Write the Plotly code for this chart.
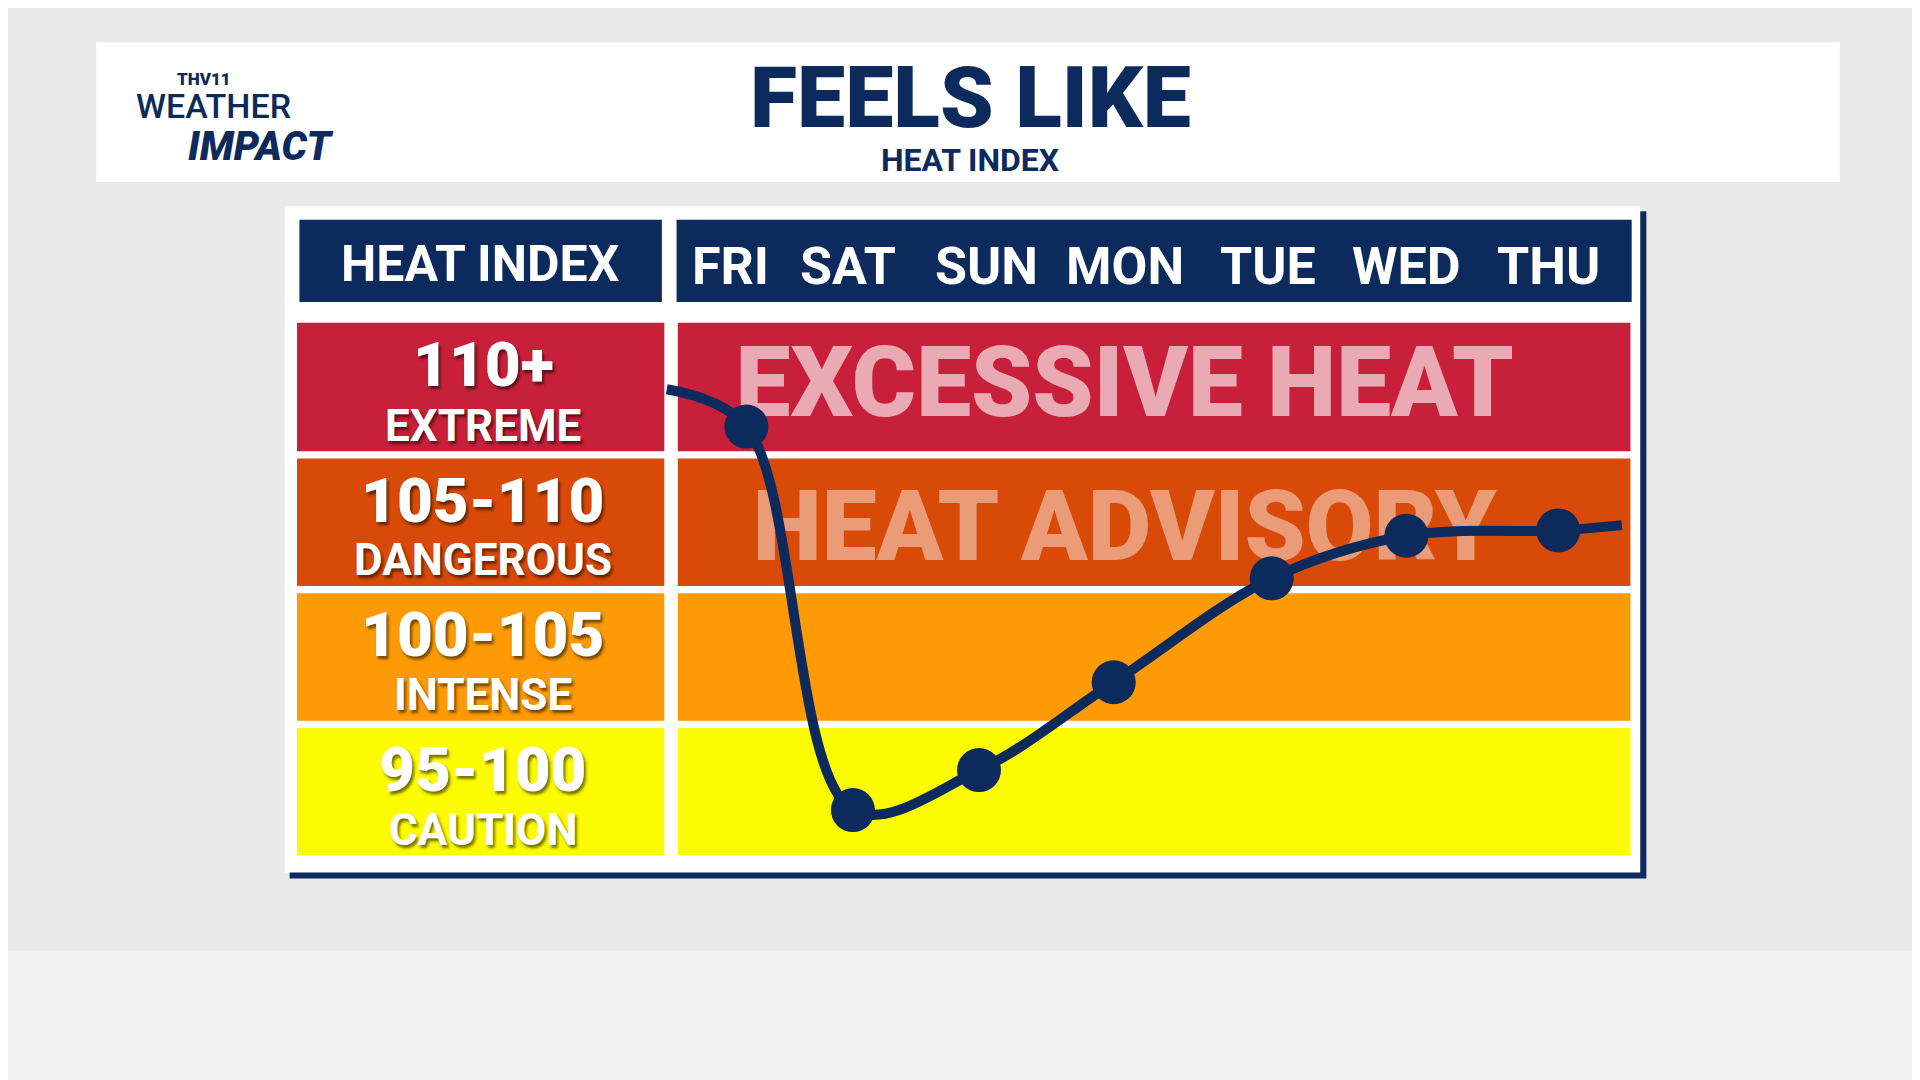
import plotly.graph_objects as go

W, H = 1920, 1080
RW, RH = 1568, 882  # reference layout units

NAVY = "#0c2a5b"

days = ["FRI", "SAT", "SUN", "MON", "TUE", "WED", "THU"]
day_pos = [603, 690, 793, 903, 1032, 1142, 1266]
feels_like = [111.1, 96.7, 98.2, 101.5, 105.4, 107.0, 107.2]
line_pos = [538] + day_pos + [1318]
line_vals = [112.5] + feels_like + [107.4]

band_labels = ["110+", "105-110", "100-105", "95-100"]
band_names = ["EXTREME", "DANGEROUS", "INTENSE", "CAUTION"]
band_colors = ["#c8203a", "#d94a08", "#fd9a05", "#fdfb00"]
band_y = [(257, 362), (368, 472), (478, 582), (588, 692)]

zones = ["EXCESSIVE HEAT", "HEAT ADVISORY"]
zone_vals = [112.4, 107.0]
zone_alpha = [0.62, 0.45]


def px(x):
    return x / RW


def py(y):
    return 1 - y / RH


def rect(x0, y0, x1, y1, color):
    return dict(type="rect", xref="paper", yref="paper", x0=px(x0), x1=px(x1),
                y0=py(y1), y1=py(y0), fillcolor=color, layer="below", line=dict(width=0))


def text(x, y, s, size, color="white", weight="bold", shadow="none", family="Roboto"):
    return dict(xref="paper", yref="paper", x=px(x), y=py(y), text=s, showarrow=False,
                font=dict(size=size, color=color, family=family, weight=weight, shadow=shadow),
                xanchor="center", yanchor="middle")


shapes = [
    rect(0, 0, RW, 770, "#e9e9e9"),
    rect(0, 770, RW, RH, "#f0f0f0"),
    rect(72, 28, 1496, 142, "white"),
    rect(230, 166, 1338, 711, NAVY),
    rect(226, 162, 1333, 706, "white"),
    rect(238, 173, 534, 240, NAVY),
    rect(546, 173, 1326, 240, NAVY),
]
for (y0, y1), c in zip(band_y, band_colors):
    shapes.append(rect(236, y0, 536, y1, c))
    shapes.append(rect(547, y0, 1325, y1, c))

sh = "2px 3px 3px rgba(0,0,0,0.55)"
annotations = [
    text(786, 73, "FEELS LIKE", 86, color=NAVY, weight=900),
    text(786, 124, "HEAT INDEX", 32, color=NAVY),
    text(386, 209, "HEAT INDEX", 50),
    text(160, 58, "THV11", 17, color=NAVY, weight=900),
    text(168, 80, "WEATHER", 34, color=NAVY, weight=500),
    text(206, 113, "<i>IMPACT</i>", 40, color=NAVY, weight=900),
]
for d, x in zip(days, [590, 686, 799, 912, 1029, 1142, 1258]):
    annotations.append(text(x, 211, d, 52))
for (y0, y1), lab, name in zip(band_y, band_labels, band_names):
    annotations.append(text(388, y0 + 34, lab, 62, weight=900, shadow=sh))
    annotations.append(text(388, y1 - 21, name, 44, shadow=sh))

fig = go.Figure()
for z, v, a in zip(zones, zone_vals, zone_alpha):
    fig.add_trace(go.Scatter(x=[912], y=[v], mode="text", text=[z], hoverinfo="skip",
                             textfont=dict(size=98, color=f"rgba(255,255,255,{a})",
                                           family="Roboto", weight=900)))
fig.add_trace(go.Scatter(x=line_pos, y=line_vals, mode="lines",
                         line=dict(color=NAVY, width=10, shape="spline", smoothing=1.0),
                         hoverinfo="skip"))
fig.add_trace(go.Scatter(x=day_pos, y=feels_like, mode="markers", text=days,
                         marker=dict(color=NAVY, size=44)))

fig.update_layout(
    width=W, height=H, margin=dict(l=0, r=0, t=0, b=0),
    paper_bgcolor="#e9e9e9", plot_bgcolor="rgba(0,0,0,0)", showlegend=False,
    xaxis=dict(domain=[px(536), px(1325)], range=[536, 1325], visible=False, fixedrange=True),
    yaxis=dict(domain=[py(692), py(257)], range=[95, 115], visible=False, fixedrange=True),
    shapes=shapes, annotations=annotations,
)
fig.write_html("out.html")
